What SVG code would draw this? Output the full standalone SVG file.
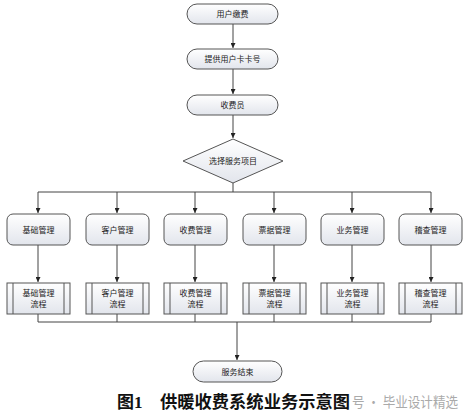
<svg xmlns="http://www.w3.org/2000/svg" width="474" height="420" viewBox="0 0 474 420">
<defs>
<linearGradient id="g" x1="0" y1="0" x2="0" y2="1">
<stop offset="0" stop-color="#ffffff"/>
<stop offset="1" stop-color="#e2e5ec"/>
</linearGradient>
<marker id="arr" viewBox="0 0 8 8" refX="8" refY="4" markerWidth="5" markerHeight="5" orient="auto" markerUnits="userSpaceOnUse">
<path d="M0,0 L8,4 L0,8 z" fill="#222"/>
</marker>
<style>
.n{fill:url(#g);stroke:#555;stroke-width:1}
.t{font-family:"Noto Sans CJK SC",sans-serif;font-size:8px;fill:#222;text-anchor:middle}
.c{fill:none;stroke:#444;stroke-width:1}
.bar{stroke:#555;stroke-width:1}
</style>
</defs>
<rect width="474" height="420" fill="#fff"/>
<g id="connectors">
<path class="c" d="M233,24 V48" marker-end="url(#arr)"/>
<path class="c" d="M233,69 V94" marker-end="url(#arr)"/>
<path class="c" d="M233,115 V138" marker-end="url(#arr)"/>
<path class="c" d="M233,183 V192 M38,192 H431"/>
<path class="c" d="M38,192 V213" marker-end="url(#arr)"/>
<path class="c" d="M117,192 V213" marker-end="url(#arr)"/>
<path class="c" d="M195,192 V213" marker-end="url(#arr)"/>
<path class="c" d="M274,192 V213" marker-end="url(#arr)"/>
<path class="c" d="M352,192 V213" marker-end="url(#arr)"/>
<path class="c" d="M431,192 V213" marker-end="url(#arr)"/>
<path class="c" d="M38,245 V282" marker-end="url(#arr)"/>
<path class="c" d="M117,245 V282" marker-end="url(#arr)"/>
<path class="c" d="M195,245 V282" marker-end="url(#arr)"/>
<path class="c" d="M274,245 V282" marker-end="url(#arr)"/>
<path class="c" d="M352,245 V282" marker-end="url(#arr)"/>
<path class="c" d="M431,245 V282" marker-end="url(#arr)"/>
<path class="c" d="M38,314 V322 H431 V314 M117,314 V322 M195,314 V322 M274,314 V322 M352,314 V322"/>
<path class="c" d="M237,322 V360" marker-end="url(#arr)"/>
</g>
<g id="start"><rect class="n" x="187" y="4" width="91" height="20" rx="10"/><text class="t" x="232.5" y="17">用户缴费</text></g>
<g id="card"><rect class="n" x="187" y="49" width="91" height="20" rx="10"/><text class="t" x="232.5" y="62">提供用户卡卡号</text></g>
<g id="cashier"><rect class="n" x="187" y="95" width="91" height="20" rx="10"/><text class="t" x="232.5" y="108">收费员</text></g>
<g id="choose"><polygon class="n" points="233,139 283,161 233,183 183,161"/><text class="t" x="233" y="164">选择服务项目</text></g>
<g id="m1"><rect class="n" x="7" y="214" width="63" height="31" rx="6"/><text class="t" x="38.5" y="232.5">基础管理</text></g>
<g id="m2"><rect class="n" x="86" y="214" width="63" height="31" rx="6"/><text class="t" x="117.5" y="232.5">客户管理</text></g>
<g id="m3"><rect class="n" x="164" y="214" width="63" height="31" rx="6"/><text class="t" x="195.5" y="232.5">收费管理</text></g>
<g id="m4"><rect class="n" x="243" y="214" width="63" height="31" rx="6"/><text class="t" x="274.5" y="232.5">票据管理</text></g>
<g id="m5"><rect class="n" x="321" y="214" width="63" height="31" rx="6"/><text class="t" x="352.5" y="232.5">业务管理</text></g>
<g id="m6"><rect class="n" x="399" y="214" width="63" height="31" rx="6"/><text class="t" x="430.5" y="232.5">稽查管理</text></g>
<g id="p1"><rect class="n" x="7" y="283" width="63" height="31"/><path class="bar" d="M13,283 V314 M64,283 V314"/><text class="t" x="38.5" y="296">基础管理</text><text class="t" x="38.5" y="307">流程</text></g>
<g id="p2"><rect class="n" x="86" y="283" width="63" height="31"/><path class="bar" d="M92,283 V314 M143,283 V314"/><text class="t" x="117.5" y="296">客户管理</text><text class="t" x="117.5" y="307">流程</text></g>
<g id="p3"><rect class="n" x="164" y="283" width="63" height="31"/><path class="bar" d="M170,283 V314 M221,283 V314"/><text class="t" x="195.5" y="296">收费管理</text><text class="t" x="195.5" y="307">流程</text></g>
<g id="p4"><rect class="n" x="243" y="283" width="63" height="31"/><path class="bar" d="M249,283 V314 M300,283 V314"/><text class="t" x="274.5" y="296">票据管理</text><text class="t" x="274.5" y="307">流程</text></g>
<g id="p5"><rect class="n" x="321" y="283" width="63" height="31"/><path class="bar" d="M327,283 V314 M378,283 V314"/><text class="t" x="352.5" y="296">业务管理</text><text class="t" x="352.5" y="307">流程</text></g>
<g id="p6"><rect class="n" x="399" y="283" width="63" height="31"/><path class="bar" d="M405,283 V314 M456,283 V314"/><text class="t" x="430.5" y="296">稽查管理</text><text class="t" x="430.5" y="307">流程</text></g>
<g id="end"><rect class="n" x="193" y="361" width="89" height="21" rx="10.5"/><text class="t" x="237.5" y="374.5">服务结束</text></g>
<text x="117" y="408" font-family="'Liberation Serif','Noto Sans CJK SC',serif" font-weight="bold" font-size="17" fill="#111">图1</text>
<text x="160" y="408" font-family="'Liberation Serif','Noto Sans CJK SC',serif" font-weight="bold" font-size="17" fill="#111" textLength="190" lengthAdjust="spacingAndGlyphs">供暖收费系统业务示意图</text>
<text x="352" y="407" font-family="'Noto Sans CJK SC',sans-serif" font-size="14" fill="#aaa" textLength="106" lengthAdjust="spacingAndGlyphs">号 · 毕业设计精选</text>
</svg>
